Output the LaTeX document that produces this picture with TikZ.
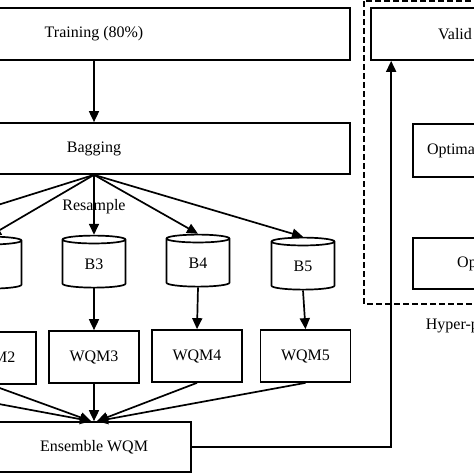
\documentclass[tikz,border=0pt]{standalone}
\usepackage{fontspec}
\setmainfont{Liberation Serif}
\usetikzlibrary{arrows.meta,shapes.geometric}
\tikzset{>={Triangle[length=11pt,width=10pt]}}
\tikzset{
	stage/.style={draw, inner sep=0pt},
	bagset/.style={draw, cylinder, shape border rotate=90, aspect=0.42, minimum width=63pt, minimum height=52pt, inner sep=0pt},
	model/.style={draw, minimum width=90pt, minimum height=52pt, inner sep=0pt}
}

\begin{document}
\begin{tikzpicture}[x=1pt, y=-1pt, line width=1.7pt, font=\fontsize{16}{19}\selectfont]
		\clip (0,0) rectangle (474,474);

		% training branch
		\node[stage, minimum width=512pt, minimum height=52pt] (training) at (94,34) {Training (80\%)};
		\node[stage, minimum width=512pt, minimum height=51pt] (bagging) at (94,148.5) {Bagging};
		\draw[->] (training) -- (bagging);

		% bootstrap sets
		\coordinate (b1) at (-114,240);
		\node[bagset] (b2) at (-10,265) {B2};
		\node[bagset] (b3) at (94,264) {B3};
		\node[bagset] (b4) at (198,263) {B4};
		\node[bagset] (b5) at (303,266) {B5};
		\node (resample) at (94,207) {Resample};
		\draw[->] (bagging.south) -- (b1);
		\draw[->] (bagging.south) -- (b2.north);
		\draw[->] (bagging.south) -- (b3.north);
		\draw[->] (bagging.south) -- (b4.north);
		\draw[->] (bagging.south) -- (b5.north);

		% models
		\coordinate (wqm1) at (-114,383);
		\node[model] (wqm2) at (-9,358) {WQM2};
		\node[model] (wqm3) at (94,357) {WQM3};
		\node[model] (wqm4) at (197,356) {WQM4};
		\node[model] (wqm5) at (305.5,356) {WQM5};
		\draw[->] (b2.south) -- (wqm2.north);
		\draw[->] (b3.south) -- (wqm3.north);
		\draw[->] (b4.south) -- (wqm4.north);
		\draw[->] (b5.south) -- (wqm5.north);

		% ensemble
		\node[stage, minimum width=194pt, minimum height=50pt] (ensemble) at (94,447) {Ensemble WQM};
		\draw[->] (wqm1) -- ([xshift=-3pt]ensemble.north);
		\draw[->] (wqm2.south) -- ([xshift=-3pt]ensemble.north);
		\draw[->] (wqm3.south) -- (ensemble.north);
		\draw[->] (wqm4.south) -- ([xshift=3pt]ensemble.north);
		\draw[->] (wqm5.south) -- ([xshift=3pt]ensemble.north);

		% hyper-parameter tuning
		\draw[dashed, dash pattern=on 6pt off 3pt] (364,1) rectangle (560,304);
		\node[stage, minimum width=168pt, minimum height=52pt] (valid) at (455,34) {Valid};
		\node[stage, minimum width=76pt, minimum height=53pt] (optima) at (451,150.5) {Optima};
		\node[stage, minimum width=108pt, minimum height=51pt] (opt) at (467,263.5) {Op};
		\node[anchor=west, inner sep=0pt] (hyper) at (425,326) {Hyper-p};
		\draw[->] (ensemble.east) -| ([xshift=21pt]valid.south west);
	\end{tikzpicture}
\end{document}
